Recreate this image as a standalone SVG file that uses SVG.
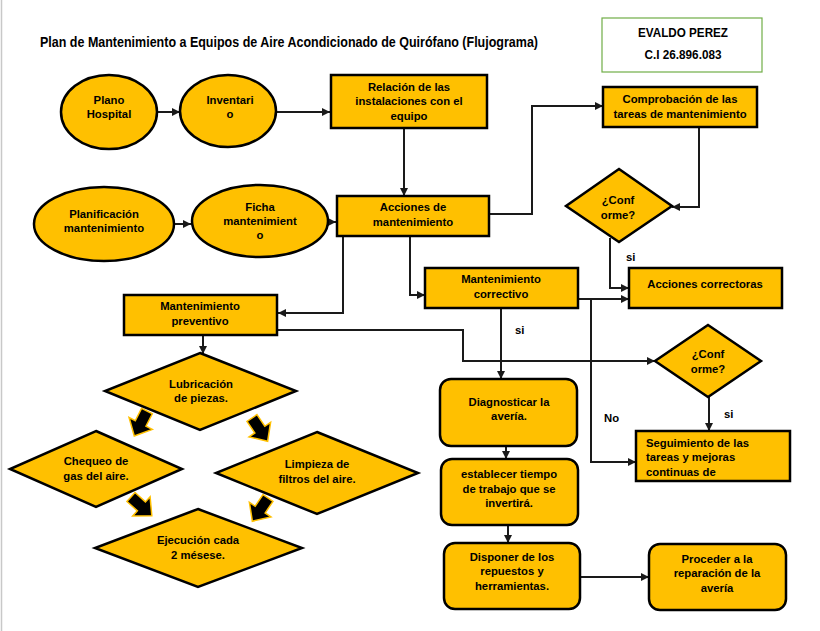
<svg xmlns="http://www.w3.org/2000/svg" width="820" height="631" viewBox="0 0 820 631">
<defs>
<style>
.n{fill:#FFC000;stroke:#000;stroke-width:2.5}
.t{font-family:"Liberation Sans",Arial,sans-serif;font-weight:bold;font-size:11.3px;fill:#000;text-anchor:middle}
.tl{font-family:"Liberation Sans",Arial,sans-serif;font-weight:bold;font-size:11.3px;fill:#000}
.c{fill:none;stroke:#1a1a1a;stroke-width:2}
.ba{fill:#000;stroke:#FFC000;stroke-width:1.5}
</style>
<marker id="ah" viewBox="0 0 8 8" refX="8" refY="4" markerWidth="8" markerHeight="8" markerUnits="userSpaceOnUse" orient="auto">
<path d="M0,0 L8,4 L0,8 z" fill="#1a1a1a"/>
</marker>
<path id="blk" d="M0,-6 L14,-6 L14,-13 L28,0 L14,13 L14,6 L0,6 z"/>
</defs>
<rect width="820" height="631" fill="#fff"/>
<line x1="1.5" y1="0" x2="1.5" y2="631" stroke="#c8c8c8" stroke-width="1.5"/>

<text x="40" y="47" class="tl" style="font-size:15px" textLength="498" lengthAdjust="spacingAndGlyphs">Plan de Mantenimiento a Equipos de Aire Acondicionado de Quirófano (Flujograma)</text>

<g id="autor">
<rect x="602" y="18" width="160" height="54" fill="#fff" stroke="#70AD47" stroke-width="1.2"/>
<text x="683" y="37" class="t" style="font-size:12.5px" textLength="90" lengthAdjust="spacingAndGlyphs">EVALDO PEREZ</text>
<text x="683" y="59" class="t" style="font-size:12.5px" textLength="77" lengthAdjust="spacingAndGlyphs">C.I 26.896.083</text>
</g>

<g id="connectors">
<path class="c" d="M158,112 H180" marker-end="url(#ah)"/>
<path class="c" d="M277,112 H330" marker-end="url(#ah)"/>
<path class="c" d="M404,128 V196" marker-end="url(#ah)"/>
<path class="c" d="M174,224 H191" marker-end="url(#ah)"/>
<path class="c" d="M329,222 H336" marker-end="url(#ah)"/>
<path class="c" d="M489,214 H532 V106 H603" marker-end="url(#ah)"/>
<path class="c" d="M699,127 V207 H672" marker-end="url(#ah)"/>
<path class="c" d="M610,238 V288 H629" marker-end="url(#ah)"/>
<path class="c" d="M343,236 V313 H278" marker-end="url(#ah)"/>
<path class="c" d="M410,236 V295 H425" marker-end="url(#ah)"/>
<path class="c" d="M578,299 H629" marker-end="url(#ah)"/>
<path class="c" d="M591,299 V462 H636" marker-end="url(#ah)"/>
<path class="c" d="M501,308 V379" marker-end="url(#ah)"/>
<path class="c" d="M277,330 H463 V361 H655" marker-end="url(#ah)"/>
<path class="c" d="M709,397 V431" marker-end="url(#ah)"/>
<path class="c" d="M203,335 V354" marker-end="url(#ah)"/>
<path class="c" d="M506,446 V459" marker-end="url(#ah)"/>
<path class="c" d="M508,525 V543" marker-end="url(#ah)"/>
<path class="c" d="M580,577 H649" marker-end="url(#ah)"/>
<text x="626" y="261" class="tl">si</text>
<text x="515" y="334" class="tl">si</text>
<text x="604" y="422" class="tl">No</text>
<text x="724" y="418" class="tl">si</text>
<use href="#blk" class="ba" transform="translate(147,411) rotate(117)"/>
<use href="#blk" class="ba" transform="translate(252,418) rotate(56)"/>
<use href="#blk" class="ba" transform="translate(131,497) rotate(42)"/>
<use href="#blk" class="ba" transform="translate(268,498) rotate(124)"/>
</g>

<g id="plano">
<ellipse class="n" cx="109" cy="112" rx="48" ry="37" stroke-width="2"/>
<text x="109" y="104" class="t">Plano</text>
<text x="109" y="118" class="t">Hospital</text>
</g>
<g id="inventario">
<ellipse class="n" cx="228" cy="111" rx="48" ry="36" stroke-width="2"/>
<text x="230" y="104" class="t">Inventari</text>
<text x="230" y="118" class="t">o</text>
</g>
<g id="relacion">
<rect class="n" x="331" y="75" width="156" height="53"/>
<text x="409" y="91" class="t">Relación de las</text>
<text x="409" y="105" class="t">instalaciones con el</text>
<text x="409" y="120" class="t">equipo</text>
</g>
<g id="comprobacion">
<rect class="n" x="603" y="87" width="154" height="40"/>
<text x="680" y="103" class="t">Comprobación de las</text>
<text x="680" y="118" class="t">tareas de mantenimiento</text>
</g>
<g id="planificacion">
<ellipse class="n" cx="104" cy="224" rx="70" ry="37" stroke-width="2"/>
<text x="104" y="218" class="t">Planificación</text>
<text x="104" y="232" class="t">mantenimiento</text>
</g>
<g id="ficha">
<ellipse class="n" cx="260" cy="221" rx="68" ry="36" stroke-width="2"/>
<text x="260" y="211" class="t">Ficha</text>
<text x="260" y="225" class="t">mantenimient</text>
<text x="260" y="239" class="t">o</text>
</g>
<g id="acciones">
<rect class="n" x="337" y="196" width="152" height="40"/>
<text x="413" y="211" class="t">Acciones de</text>
<text x="413" y="226" class="t">mantenimiento</text>
</g>
<g id="conforme1">
<polygon class="n" points="619,169 672,206 619,242 566,206" stroke-width="2"/>
<text x="618" y="204" class="t">¿Conf</text>
<text x="618" y="219" class="t">orme?</text>
</g>
<g id="correctivo">
<rect class="n" x="425" y="268" width="153" height="40"/>
<text x="501" y="283" class="t">Mantenimiento</text>
<text x="501" y="298" class="t">correctivo</text>
</g>
<g id="correctoras">
<rect class="n" x="629" y="268" width="153" height="40"/>
<text x="705" y="288" class="t">Acciones correctoras</text>
</g>
<g id="preventivo">
<rect class="n" x="124" y="295" width="153" height="40"/>
<text x="200" y="310" class="t">Mantenimiento</text>
<text x="200" y="325" class="t">preventivo</text>
</g>
<g id="conforme2">
<polygon class="n" points="708,325 761,361 708,397 655,361" stroke-width="2"/>
<text x="708" y="358" class="t">¿Conf</text>
<text x="708" y="373" class="t">orme?</text>
</g>
<g id="lubricacion">
<polygon class="n" points="200,353 296,391 200,430 105,391" stroke-width="2"/>
<text x="201" y="388" class="t">Lubricación</text>
<text x="201" y="402" class="t">de piezas.</text>
</g>
<g id="chequeo">
<polygon class="n" points="96,431 182,469 96,507 10,469" stroke-width="2"/>
<text x="96" y="465" class="t">Chequeo de</text>
<text x="96" y="480" class="t">gas del aire.</text>
</g>
<g id="limpieza">
<polygon class="n" points="317,432 418,473 317,514 216,473" stroke-width="2"/>
<text x="317" y="468" class="t">Limpieza de</text>
<text x="317" y="483" class="t">filtros del aire.</text>
</g>
<g id="ejecucion">
<polygon class="n" points="198,509 302,548 198,587 95,548" stroke-width="2"/>
<text x="198" y="544" class="t">Ejecución cada</text>
<text x="198" y="559" class="t">2 mésese.</text>
</g>
<g id="seguimiento">
<rect class="n" x="636" y="431" width="154" height="50"/>
<text x="646" y="447" class="tl">Seguimiento de las</text>
<text x="646" y="461" class="tl">tareas y mejoras</text>
<text x="646" y="476" class="tl">continuas de</text>
</g>
<g id="diagnosticar">
<rect class="n" x="440" y="379" width="137" height="67" rx="11"/>
<text x="509" y="406" class="t">Diagnosticar la</text>
<text x="509" y="420" class="t">avería.</text>
</g>
<g id="establecer">
<rect class="n" x="441" y="459" width="137" height="66" rx="11"/>
<text x="509" y="478" class="t">establecer tiempo</text>
<text x="509" y="493" class="t">de trabajo que se</text>
<text x="509" y="507" class="t">invertirá.</text>
</g>
<g id="disponer">
<rect class="n" x="444" y="543" width="136" height="66" rx="11"/>
<text x="512" y="561" class="t">Disponer de los</text>
<text x="512" y="575" class="t">repuestos y</text>
<text x="512" y="590" class="t">herramientas.</text>
</g>
<g id="proceder">
<rect class="n" x="649" y="544" width="137" height="66" rx="11"/>
<text x="717" y="563" class="t">Proceder a la</text>
<text x="717" y="577" class="t">reparación de la</text>
<text x="717" y="592" class="t">avería</text>
</g>
</svg>
